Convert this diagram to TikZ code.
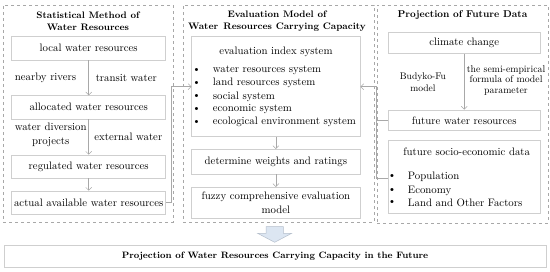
\documentclass[tikz,border=0pt]{standalone}
\usetikzlibrary{arrows.meta}
\definecolor{boxc}{HTML}{CFCFCF}
\definecolor{panc}{HTML}{A8A8A8}
\definecolor{arrc}{HTML}{A8A8A8}
\definecolor{bfill}{HTML}{DCE6F2}
\definecolor{bdraw}{HTML}{B4BECB}
\begin{document}
\begin{tikzpicture}[x=1pt,y=-1pt,
  font=\fontsize{10.8}{13}\selectfont,
  panel/.style={draw=panc, dashed, line width=0.6pt, inner sep=0pt},
  box/.style={draw=boxc, line width=0.6pt, inner sep=0pt, align=center},
  arr/.style={draw=arrc, line width=0.5pt, -{Straight Barb[length=3pt,width=6pt]}},
  ln/.style={draw=arrc, line width=0.5pt},
  ttl/.style={font=\fontsize{9.4}{11.7}\selectfont\bfseries, align=center, inner sep=0pt},
  lbl/.style={align=center, inner sep=0pt},
  itm/.style={anchor=west, inner sep=0pt},
  bul/.style={inner sep=0pt}]
\path[use as bounding box] (0,0) rectangle (550,272);

% panels
\node[panel, minimum width=170pt, minimum height=217pt] (P1) at (88,113.5) {};
\node[panel, minimum width=191pt, minimum height=217pt] (P2) at (278.5,113.5) {};
\node[panel, minimum width=171pt, minimum height=218pt] (P3) at (462.5,114) {};

% titles
\node[ttl] (t1) at (88,21) {Statistical Method of\\Water Resources};
\node[ttl] (t2) at (277,21) {Evaluation Model of\\Water\, Resources Carrying Capacity};
\node[ttl, font=\fontsize{9.9}{11.7}\selectfont\bfseries] (t3) at (462.5,15.5) {Projection of Future Data};

% left panel
\node[box, minimum width=154pt, minimum height=23.3pt] (lw) at (88.7,48.3) {local water resources};
\node[box, minimum width=154pt, minimum height=23.3pt] (aw) at (88.7,107.3) {allocated water resources};
\node[box, minimum width=154pt, minimum height=23pt] (rw) at (88.7,166.5) {regulated water resources};
\node[box, minimum width=154pt, minimum height=23pt] (act) at (88.7,202.5) {actual available water resources};
\draw[arr] (lw) -- (aw);
\draw[arr] (aw) -- (rw);
\draw[arr] (rw) -- (act);
\node[lbl] (l1) at (45.5,78.3) {nearby rivers};
\node[lbl] (l2) at (126.3,78.3) {transit water};
\node[lbl, font=\fontsize{10.8}{13.4}\selectfont] (l3) at (50.7,135) {water diversion\\projects};
\node[lbl] (l4) at (128.3,136.7) {external water};

% middle panel
\node[box, minimum width=168.3pt, minimum height=100pt] (idx) at (275.9,86.7) {};
\node[lbl] (ih) at (275.9,52) {evaluation index system};
\foreach \y/\t [count=\i] in {70.7/water resources system,83.3/land resources system,96.7/social system,109.3/economic system,122.3/ecological environment system}{
  \node[bul] (ib\i) at (196.5,\y) {\textbullet};
  \node[itm] (it\i) at (212.7,\y) {\t};
}
\node[box, minimum width=168.3pt, minimum height=24.7pt] (wr) at (275.9,161.7) {determine weights and ratings};
\node[box, minimum width=168.3pt, minimum height=31pt, font=\fontsize{10.8}{14.5}\selectfont] (fz) at (275.9,202.8) {fuzzy comprehensive evaluation\\model};
\draw[arr] (idx) -- (wr);
\draw[arr] (wr) -- (fz);

% right panel
\node[box, minimum width=151.7pt, minimum height=21pt] (cc) at (464.2,42.8) {climate change};
\node[box, minimum width=151.7pt, minimum height=20.7pt] (fw) at (464.2,120.3) {future water resources};
\node[box, minimum width=151.7pt, minimum height=73.3pt] (soc) at (464.2,176.7) {};
\draw[arr] (cc) -- (fw);
\node[lbl, font=\fontsize{9.6}{11.6}\selectfont] (bf) at (423,82.5) {Budyko-Fu\\model};
\node[lbl, font=\fontsize{9.8}{10.5}\selectfont] (se) at (506,80.5) {the semi-empirical\\formula of model\\parameter};
\node[lbl] (sh) at (466.7,151.7) {future socio-economic data};
\foreach \y/\t [count=\i] in {176.7/Population,190.7/Economy,202.7/Land and Other Factors}{
  \node[bul] (sb\i) at (392,\y) {\textbullet};
  \node[itm] (st\i) at (407.7,\y) {\t};
}

% connectors
\coordinate (j1) at (171,86.7);
\draw[arr] (act.east) -| (j1) -- (idx.west |- j1);
\coordinate (j2) at (376,86.7);
\coordinate (sy) at (0,178);
\draw[arr] (soc.west |- sy) -| (j2) -- (idx.east |- j2);
\draw[ln] (fw.west) -- (fw.west -| j2);

% block arrow and final box
\draw[draw=bdraw, fill=bfill, line width=0.5pt] (266,226.7) -- (283.3,226.7) -- (283.3,233.3) -- (291.7,233.3) -- (274.65,242.3) -- (257.6,233.3) -- (266,233.3) -- cycle;
\node[box, minimum width=542pt, minimum height=21.8pt, font=\fontsize{9.25}{11.5}\selectfont\bfseries] (fin) at (275,256.6) {Projection of Water Resources Carrying Capacity in the Future};
\end{tikzpicture}
\end{document}
